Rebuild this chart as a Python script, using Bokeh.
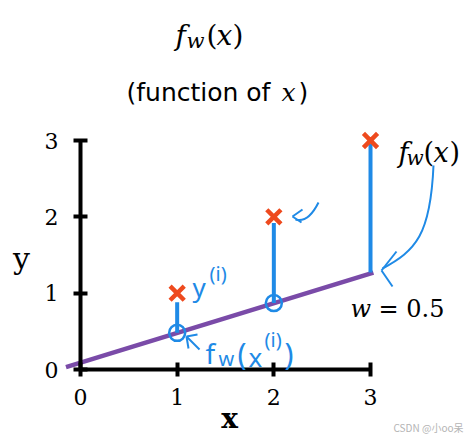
from bokeh.plotting import figure
from bokeh.models import Range1d, LinearAxis, FixedTicker, Label
from bokeh.embed import file_html
from bokeh.resources import INLINE

# ---- data ----
x_ticks = [0, 1, 2, 3]
y_ticks = [0, 1, 2, 3]
x_pts = [1, 2, 3]
y_pts = [1, 2, 3]
fit_x = [1, 2]
fit_y = [0.48, 0.87]
stem_bottom = [0.48, 0.87, 1.27]
stem_top = [0.88, 1.92, 2.96]
line_x = [-0.15, 3.03]
line_y = [0.03, 1.27]

RED = "#EE4A1E"
BLUE = "#1F8AE6"
PURPLE = "#7A4BA8"

# ---- geometry (canvas px -> data) ----
SX, SY = 96.67, 76.33
X0, Y0 = 80, 369
W, H = 474, 434
def dx(px): return (px - X0) / SX
def dy(py): return (Y0 - py) / SY

p = figure(width=W, height=H, output_backend="svg", toolbar_location=None,
           x_range=Range1d(dx(0), dx(W)), y_range=Range1d(dy(H), dy(0)),
           x_axis_location=None, y_axis_location=None, title=None,
           min_border=0, outline_line_color=None, background_fill_color="white",
           border_fill_color="white")
p.grid.visible = False

def style_axis(ax, standoff):
    ax.axis_line_width = 4
    ax.axis_line_color = "black"
    ax.major_tick_line_width = 4
    ax.major_tick_line_color = "black"
    ax.major_tick_in = 7
    ax.major_tick_out = 7
    ax.minor_tick_line_color = None
    ax.major_label_text_font = "DejaVu Serif"
    ax.major_label_text_font_size = "22px"
    ax.major_label_text_color = "black"
    ax.major_label_standoff = standoff

xaxis = LinearAxis(fixed_location=0, bounds=(0, 3), ticker=FixedTicker(ticks=x_ticks))
style_axis(xaxis, 12)
p.add_layout(xaxis, "below")
yaxis = LinearAxis(fixed_location=0, bounds=(0, 3), ticker=FixedTicker(ticks=y_ticks))
style_axis(yaxis, 15)
p.add_layout(yaxis, "left")

# ---- marks ----
p.line(line_x, line_y, line_width=4.5, line_color=PURPLE)
p.segment(x0=x_pts, y0=stem_bottom, x1=x_pts, y1=stem_top, line_width=4, line_color=BLUE)
p.scatter(fit_x, fit_y, marker="circle", size=16, fill_color=None,
          line_color=BLUE, line_width=2.5)
p.scatter(x_pts, y_pts, marker="x", size=20, line_width=4.5, line_color=RED)

# ---- hand-drawn arrows ----
def bez(a, c0, c1, b):
    p.bezier(x0=[dx(a[0])], y0=[dy(a[1])], x1=[dx(b[0])], y1=[dy(b[1])],
             cx0=[dx(c0[0])], cy0=[dy(c0[1])], cx1=[dx(c1[0])], cy1=[dy(c1[1])],
             line_color=BLUE, line_width=2)
def seg(a, b):
    p.segment(x0=[dx(a[0])], y0=[dy(a[1])], x1=[dx(b[0])], y1=[dy(b[1])],
              line_color=BLUE, line_width=2)

bez((433, 165), (430, 235), (415, 250), (382, 268))
seg((381, 270), (396, 251))
seg((381, 270), (392, 286))

bez((295, 219), (305, 222), (313, 212), (318, 202))
seg((292, 216), (302, 209))
seg((292, 216), (301, 222))

seg((186, 336), (199, 349))
seg((186, 336), (197, 334))
seg((186, 336), (188, 348))

# ---- texts ----
def lab(text, px, py, size, font="DejaVu Serif", style="normal", color="black",
        align="left", baseline="alphabetic"):
    p.add_layout(Label(x=dx(px), y=dy(py), text=text, text_font=font,
                       text_font_size=f"{size}px", text_font_style=style,
                       text_color=color, text_align=align, text_baseline=baseline))

# top title f_w(x)
lab("f", 175, 35, 28, style="italic")
lab("w", 186, 40, 21, style="italic")
lab("(", 206, 35, 28)
lab("x", 216, 35, 28, style="italic")
lab(")", 232, 35, 28)

# (function of x)
lab("(function of ", 126, 92, 25, font="DejaVu Sans")
lab("x", 281, 92, 25, style="italic")
lab(")", 298, 92, 25, font="DejaVu Sans")

# right f_w(x)
lab("f", 398, 152, 27, style="italic")
lab("w", 406, 157, 20, style="italic")
lab("(", 423, 152, 27)
lab("x", 433, 152, 27, style="italic")
lab(")", 449, 152, 27)

# w = 0.5
lab("w", 350, 308, 24, style="italic")
lab("= 0.5", 378, 308, 24)

# axis letters
lab("y", 21, 258, 30, align="center")
lab("x", 229, 401, 28, style="bold", align="center", baseline="top")

# blue hand annotations
lab("y", 192, 286, 26, font="Noto Sans", color=BLUE)
lab("(i)", 209, 273, 20, font="Noto Sans", color=BLUE)
lab("f", 205, 352, 28, font="Noto Sans", color=BLUE)
lab("w", 218, 358, 20, font="Noto Sans", color=BLUE)
lab("(", 237, 353, 30, font="Noto Sans", color=BLUE)
lab("x", 248, 356, 26, font="Noto Sans", color=BLUE)
lab("(i)", 264, 339, 20, font="Noto Sans", color=BLUE)
lab(")", 284, 353, 30, font="Noto Sans", color=BLUE)

# watermark
lab("CSDN @小oo呆", 463, 419, 10, font="Noto Sans CJK SC", color="#b4b4b4",
    align="right", baseline="top")

open("out.html", "w").write(file_html(p, INLINE))
